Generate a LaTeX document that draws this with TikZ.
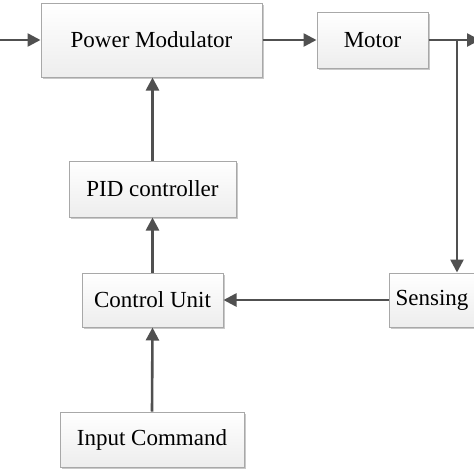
\documentclass[tikz,border=0pt]{standalone}
\usepackage{fontspec}
\setmainfont{Liberation Serif}
\usetikzlibrary{arrows.meta,shadows}
\definecolor{linec}{HTML}{505050}
\definecolor{boxborder}{HTML}{A8A8A8}
\tikzset{
  blk/.style={draw=boxborder, line width=1pt, top color=white, bottom color=black!7,
    drop shadow={shadow xshift=2pt, shadow yshift=-2pt, fill=black!35, opacity=0.6},
    font=\fontsize{23}{26}\selectfont, inner sep=0pt},
  conn/.style={draw=linec, line width=2.6pt, -{Triangle[length=13pt,width=13pt]}},
  wire/.style={draw=linec, line width=2.6pt}
}
\begin{document}
\begin{tikzpicture}[x=1pt,y=-1pt]
\useasboundingbox (0,0) rectangle (474,474);
\clip (0,0) rectangle (474,474);
\fill[white] (0,0) rectangle (474,474);
\node[blk, minimum width=221pt, minimum height=74pt] (pm) at (151.5,40) {Power Modulator};
\node[blk, minimum width=111pt, minimum height=56pt] (motor) at (372.5,40) {Motor};
\node[blk, minimum width=167pt, minimum height=56pt] (pid) at (152.5,189) {PID controller};
\node[blk, minimum width=141pt, minimum height=54pt] (cu) at (152.5,300) {Control Unit};
\node[blk, minimum width=184pt, minimum height=55pt] (ic) at (152,439.5) {Input Command};
\node[blk, minimum width=86pt, minimum height=54pt] (sens) at (432,300) {Sensing};
\coordinate (in) at (0,40);
\coordinate (out) at (480,40);
\coordinate (br) at (457,40);
\draw[conn] (in) -- (pm.west);
\draw[conn] (pm.east) -- (motor.west);
\draw[conn] (motor.east) -- (out);
\draw[conn] (br) -- (br |- sens.north);
\draw[conn] (sens.west) -- (cu.east);
\draw[conn] (ic.north) -- (cu.south);
\draw[conn] (cu.north) -- (pid.south);
\draw[conn] (pid.north) -- (pid.north |- pm.south);
\end{tikzpicture}
\end{document}
